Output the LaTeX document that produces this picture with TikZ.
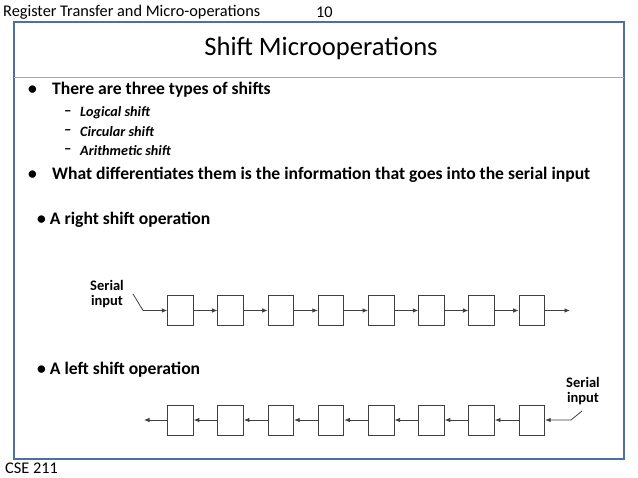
\documentclass[tikz,border=0pt]{standalone}
\usepackage{fontspec}
\setmainfont{Carlito}
\usetikzlibrary{arrows.meta}
\definecolor{framec}{HTML}{4F6F9F}
\definecolor{linec}{HTML}{8FAADC}
\begin{document}
\begin{tikzpicture}[x=1pt,y=-1pt,
  reg/.style={draw=black!75,line width=0.9pt,minimum width=25.6pt,minimum height=30pt,inner sep=0pt},
  conn/.style={draw=black!75,line width=0.8pt,-{Latex[length=5.5pt,width=4.5pt]}},
  txt/.style={anchor=west,inner sep=0pt},
  bul/.style={txt,font=\fontsize{17.6}{20}\selectfont\bfseries},
  subb/.style={txt,font=\fontsize{14.2}{16}\selectfont\bfseries\itshape},
  subd/.style={txt,font=\fontsize{15}{16}\selectfont\bfseries},
  lab/.style={inner sep=0pt,align=center,font=\fontsize{14.5}{15.5}\selectfont\bfseries}]
\useasboundingbox[fill=white] (0,0) rectangle (638,478);
% frame
\draw[framec,line width=1.3pt] (14,22) rectangle (624,459);
\draw[linec,line width=1.8pt] (14,77.5) -- (624,77.5);
% header/footer
\node[txt,font=\fontsize{16.3}{18}\selectfont] (hdr) at (3,12) {Register Transfer and Micro-operations};
\node[txt,font=\fontsize{16.3}{18}\selectfont] (pg) at (316,12) {10};
\node[txt,font=\fontsize{16.3}{18}\selectfont] (ftr) at (5,468) {CSE 211};
\node[inner sep=0pt,font=\fontsize{26.6}{30}\selectfont] (title) at (321,48) {Shift Microoperations};
% bullets
\node[bul] (b1d) at (28,90) {•};
\node[bul] (b1) at (52,90) {There are three types of shifts};
\node[subd] (s1d) at (64,113) {–};
\node[subb] (s1) at (80,113) {Logical shift};
\node[subd] (s2d) at (64,132) {–};
\node[subb] (s2) at (80,132) {Circular shift};
\node[subd] (s3d) at (64,151) {–};
\node[subb] (s3) at (80,151) {Arithmetic shift};
\node[bul] (b2d) at (28,175) {•};
\node[bul] (b2) at (52,175) {What differentiates them is the information that goes into the serial input};
\node[bul] (b3) at (37,220) {• A right shift operation};
\node[bul] (b4) at (37,370) {• A left shift operation};
% registers
\foreach \i in {1,...,8} {
  \node[reg] (r\i) at ({180.5+50.2*(\i-1)},310.5) {};
  \node[reg] (l\i) at ({180.5+50.2*(\i-1)},420) {};
}
\node[lab] (rlab) at (107,294) {Serial\\input};
\coordinate (rs1) at (133,294);
\coordinate (rs2) at (143,310.5);
\coordinate (rend) at (570,310.5);
\draw[conn] (rs1) -- (rs2) -- (r1.west);
\foreach \i/\j in {1/2,2/3,3/4,4/5,5/6,6/7,7/8} \draw[conn] (r\i.east) -- (r\j.west);
\draw[conn] (r8.east) -- (rend);
% left shift
\node[lab] (llab) at (583,391) {Serial\\input};
\coordinate (ls1) at (582,411);
\coordinate (ls2) at (571,420);
\coordinate (lend) at (144,420);
\draw[conn] (ls1) -- (ls2) -- (l8.east);
\foreach \i/\j in {8/7,7/6,6/5,5/4,4/3,3/2,2/1} \draw[conn] (l\i.west) -- (l\j.east);
\draw[conn] (l1.west) -- (lend);
\end{tikzpicture}
\end{document}
